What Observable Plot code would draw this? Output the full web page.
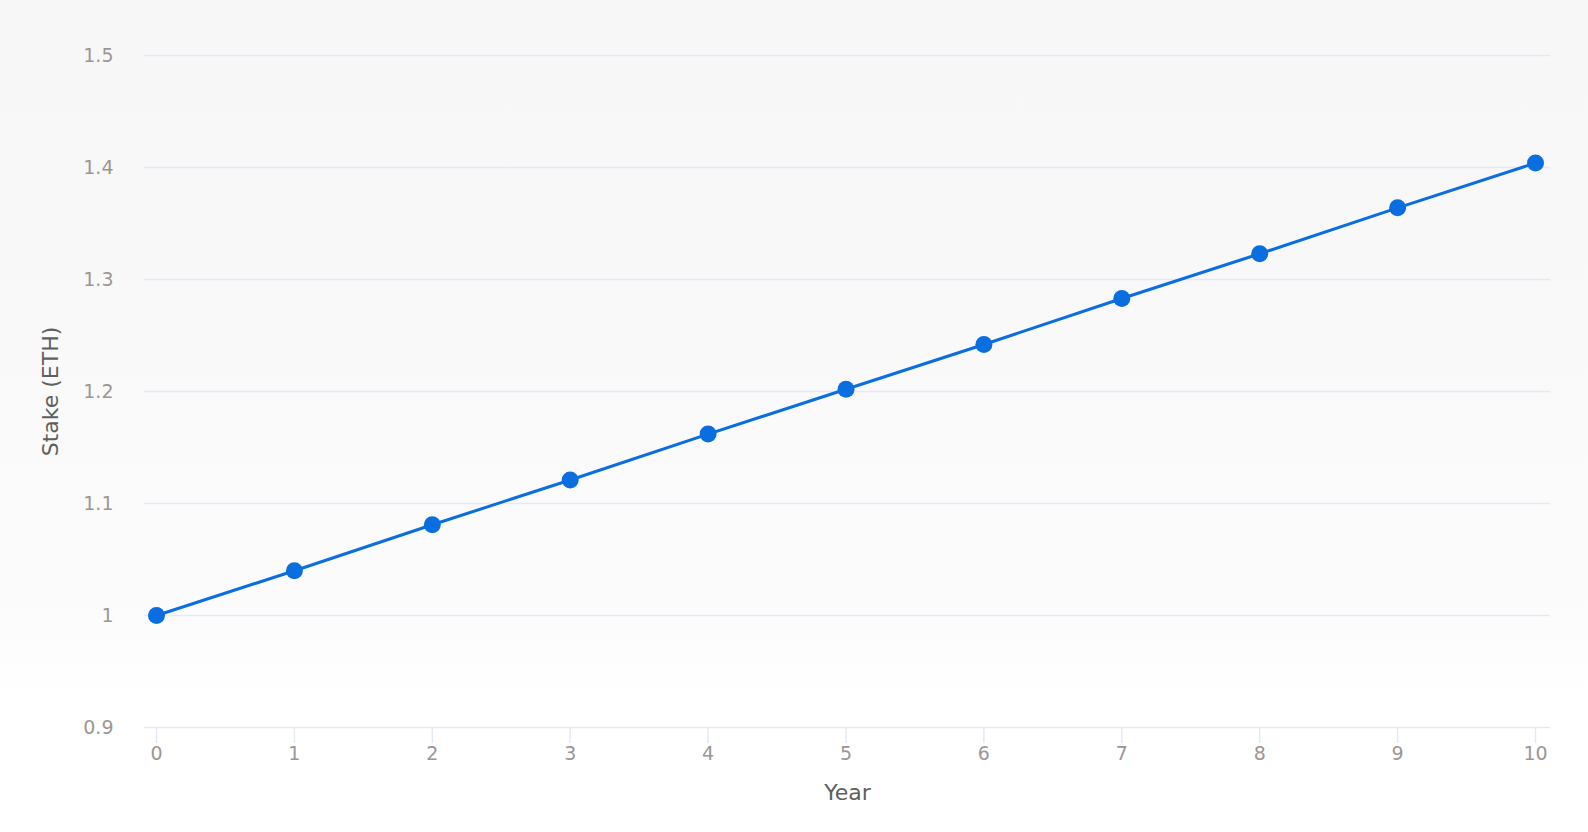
<!DOCTYPE html>
<html>
<head>
<meta charset="utf-8">
<script src="https://cdn.jsdelivr.net/npm/d3@7"></script>
<script src="https://cdn.jsdelivr.net/npm/@observablehq/plot@0.6"></script>
<style>
  html, body { margin: 0; padding: 0; }
  body {
    width: 1588px; height: 832px; overflow: hidden;
    background: linear-gradient(to bottom, #f7f7f7 0%, #f8f8f8 30%, #fafafa 55%, #fcfcfc 75%, #ffffff 84%, #ffffff 100%);
    font-family: "DejaVu Sans", sans-serif;
  }
  #chart svg { display: block; }
</style>
</head>
<body>
<div id="chart"></div>
<script>
const years = [0, 1, 2, 3, 4, 5, 6, 7, 8, 9, 10];
const stake = [1.000, 1.040, 1.081, 1.121, 1.162, 1.202, 1.242, 1.283, 1.323, 1.364, 1.404];
const yTicks = [0.9, 1.0, 1.1, 1.2, 1.3, 1.4, 1.5];
const xTicks = [0, 1, 2, 3, 4, 5, 6, 7, 8, 9, 10];
const xLabel = "Year";
const yLabel = "Stake (ETH)";

const data = years.map((y, i) => ({year: y, stake: stake[i]}));

const lineColor = "#0a6de0";
const gridColor = "#e5e9f7";
const tickText = "#9c9696";
const labelText = "#5f5f5f";

const chart = Plot.plot({
  width: 1588,
  height: 832,
  marginLeft: 144,
  marginRight: 38,
  marginTop: 55,
  marginBottom: 105,
  style: {background: "transparent", fontFamily: "DejaVu Sans, sans-serif", overflow: "visible"},
  x: {domain: [0, 10], insetLeft: 12, insetRight: 15},
  y: {domain: [0.9, 1.5]},
  marks: [
    Plot.ruleY(yTicks, {stroke: gridColor, strokeWidth: 1.5}),
    Plot.axisY(yTicks, {
      tickSize: 0, tickPadding: 31, tickFormat: d3.format("~g"),
      fill: tickText, fontSize: 19,
      label: null
    }),
    Plot.axisX(xTicks, {
      tickSize: 16, tickPadding: 3, stroke: gridColor, strokeWidth: 1.5,
      tickFormat: d3.format("d"),
      fill: tickText, fontSize: 19, label: null
    }),
    Plot.text([xLabel], {
      frameAnchor: "bottom", dy: 57, fill: labelText, fontSize: 22, lineAnchor: "top"
    }),
    Plot.text([yLabel], {
      frameAnchor: "left", textAnchor: "middle", dx: -94, rotate: -90, fill: labelText, fontSize: 22
    }),
    Plot.line(data, {x: "year", y: "stake", stroke: lineColor, strokeWidth: 3}),
    Plot.dot(data, {x: "year", y: "stake", r: 8.5, fill: lineColor, stroke: "none"})
  ]
});
document.getElementById("chart").appendChild(chart);
</script>
</body>
</html>
